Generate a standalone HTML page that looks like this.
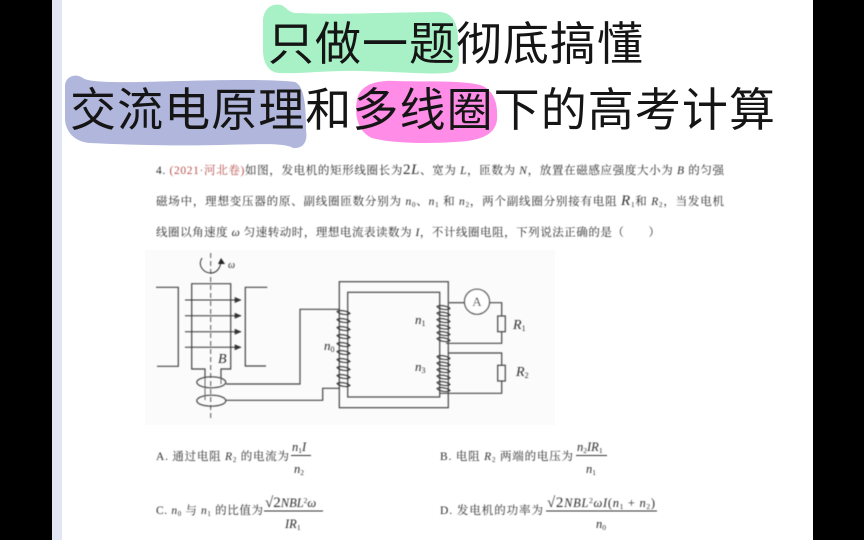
<!DOCTYPE html>
<html><head><meta charset="utf-8">
<style>
html,body{margin:0;padding:0;width:864px;height:540px;overflow:hidden;background:#000}
svg{display:block}
.h{font-family:"Liberation Sans","Noto Sans CJK SC",sans-serif;font-size:46px;fill:#151515}
.q{font-family:"Liberation Serif","Noto Serif CJK SC",serif;font-size:11.5px;fill:#2e2e2e}
.m{font-family:"Liberation Serif",serif;font-style:italic;fill:#2e2e2e}
.w{fill:none;stroke:#444;stroke-width:1.2}
</style></head><body>
<svg width="864" height="540" viewBox="0 0 864 540" xmlns="http://www.w3.org/2000/svg">
<defs>
<filter id="b" x="-5%" y="-5%" width="110%" height="110%"><feGaussianBlur stdDeviation="0.45"/></filter>
<g id="t"><path d="M-6.5,-1.5 C-4,-3.5 4,-2 6.5,0.5 C4,2.5 -4,1.5 -6.5,-1.5Z" fill="none" stroke="#333" stroke-width="1.1"/></g>
<marker id="ar" markerWidth="8" markerHeight="6" refX="6" refY="3" orient="auto" markerUnits="userSpaceOnUse"><path d="M0,0 L7,3 L0,6Z" fill="#333"/></marker>
</defs>
<rect x="52" y="0" width="10" height="540" fill="#e2e6f4"/>
<rect x="62" y="0" width="751" height="540" fill="#fff"/>
<rect x="145" y="250" width="410" height="175" fill="#fbfbfb"/>
<!-- highlights -->
<path d="M263,20 C264,8 272,3 281,5 C287,7 288,14 300,13 C340,15 400,12 440,12 C452,13 458,22 458,40 C459,55 461,65 455,71 C445,76 410,72 360,71 C330,70 300,74 280,73 C268,73 263,62 263,50Z" fill="#a8f0c6"/>
<path d="M65,85 C66,76 76,73 83,78 C90,84 140,82 180,81 C220,80 270,79 295,82 C305,86 306,110 306,130 C308,142 303,149 293,148 C285,143 260,144 220,145 C180,146 130,145 90,143 C75,142 65,132 65,118Z" fill="#b0b6dc"/>
<path d="M357,100 C360,85 375,80 395,81 C420,82 460,80 480,85 C495,90 498,105 497,120 C495,135 480,141 455,142 C425,144 390,143 372,138 C358,132 354,115 357,100Z" fill="#ff8de8"/>
<text class="h" x="268" y="60" textLength="375" lengthAdjust="spacing">只做一题彻底搞懂</text>
<text class="h" x="70" y="126" textLength="705" lengthAdjust="spacing">交流电原理和多线圈下的高考计算</text>

<g filter="url(#b)">
<!-- question -->
<text class="q" x="156" y="174" textLength="568" lengthAdjust="spacing">4. <tspan fill="#b5524f">(2021·河北卷)</tspan>如图，发电机的矩形线圈长为<tspan font-size="15">2</tspan><tspan font-size="15" font-style="italic">L</tspan>、宽为 <tspan font-style="italic">L</tspan>，匝数为 <tspan font-style="italic">N</tspan>，放置在磁感应强度大小为 <tspan font-style="italic">B</tspan> 的匀强</text>
<text class="q" x="156" y="205" textLength="568" lengthAdjust="spacing">磁场中，理想变压器的原、副线圈匝数分别为 <tspan font-style="italic">n</tspan><tspan font-size="7" dy="2">0</tspan><tspan dy="-2">、</tspan><tspan font-style="italic">n</tspan><tspan font-size="7" dy="2">1</tspan><tspan dy="-2"> 和 </tspan><tspan font-style="italic">n</tspan><tspan font-size="7" dy="2">2</tspan><tspan dy="-2">，两个副线圈分别接有电阻 </tspan><tspan font-style="italic" font-size="15">R</tspan><tspan font-size="7" dy="2">1</tspan><tspan dy="-2">和 </tspan><tspan font-style="italic">R</tspan><tspan font-size="7" dy="2">2</tspan><tspan dy="-2">，当发电机</tspan></text>
<text class="q" x="156" y="236" textLength="504" lengthAdjust="spacing">线圈以角速度 <tspan font-style="italic">ω</tspan> 匀速转动时，理想电流表读数为 <tspan font-style="italic">I</tspan>，不计线圈电阻，下列说法正确的是（　　）</text>

<!-- generator -->
<path class="w" d="M156,287.3H178.3V366.3H157"/>
<path class="w" d="M267.3,287.3H245.3V366H266"/>
<path class="w" d="M205,378V369H191.7V283.7H230.7V369H221V378"/>
<g stroke="#333" stroke-width="1">
<line x1="185" y1="300" x2="240.7" y2="300" marker-end="url(#ar)"/>
<line x1="185" y1="315.7" x2="240.7" y2="315.7" marker-end="url(#ar)"/>
<line x1="185" y1="331.7" x2="240.7" y2="331.7" marker-end="url(#ar)"/>
<line x1="185" y1="347.3" x2="240.7" y2="347.3" marker-end="url(#ar)"/>
</g>
<line x1="210.7" y1="253" x2="210.7" y2="421" stroke="#555" stroke-width="1" stroke-dasharray="5,3"/>
<path d="M202,258 C197,266 204,273 211,273 C216,273 220,269 221,262" fill="none" stroke="#333" stroke-width="1"/>
<path d="M218,264 L221,258 L225,264Z" fill="#222"/>
<text class="m" x="228" y="268" font-size="10">ω</text>
<text class="m" x="218" y="363" font-size="14">B</text>
<ellipse cx="211.3" cy="382.3" rx="14.5" ry="5.5" class="w"/>
<ellipse cx="211.3" cy="400.7" rx="14.5" ry="5.5" class="w"/>
<line x1="205" y1="378" x2="205" y2="400" stroke="#666"/>
<line x1="221" y1="378" x2="221" y2="384" stroke="#666"/>
<path class="w" d="M226,384H300V309.3H340"/>
<path class="w" d="M226,400.3H322.7V388.3H340"/>

<!-- transformer -->
<rect x="339.3" y="281.7" width="109" height="126" class="w"/>
<rect x="347.7" y="292.3" width="92" height="104.7" class="w"/>
<use href="#t" x="343.5" y="313"/><use href="#t" x="343.5" y="321"/><use href="#t" x="343.5" y="329"/><use href="#t" x="343.5" y="337"/><use href="#t" x="343.5" y="345"/><use href="#t" x="343.5" y="353"/><use href="#t" x="343.5" y="361"/><use href="#t" x="343.5" y="369"/><use href="#t" x="343.5" y="377"/><use href="#t" x="343.5" y="385"/>
<use href="#t" x="443.5" y="308"/><use href="#t" x="443.5" y="314.5"/><use href="#t" x="443.5" y="321"/><use href="#t" x="443.5" y="327.5"/><use href="#t" x="443.5" y="334"/><use href="#t" x="443.5" y="340"/>
<use href="#t" x="443.5" y="358"/><use href="#t" x="443.5" y="364.5"/><use href="#t" x="443.5" y="371"/><use href="#t" x="443.5" y="377.5"/><use href="#t" x="443.5" y="384"/><use href="#t" x="443.5" y="390"/>
<text class="m" x="324" y="350" font-size="13">n<tspan font-size="8" font-style="normal" dy="2">0</tspan></text>
<text class="m" x="415" y="324" font-size="13">n<tspan font-size="8" font-style="normal" dy="2">1</tspan></text>
<text class="m" x="415" y="371" font-size="13">n<tspan font-size="8" font-style="normal" dy="2">3</tspan></text>

<circle cx="477" cy="301.7" r="12.5" fill="#fff" stroke="#444" stroke-width="1.2"/>
<text x="477" y="306" font-family="Liberation Serif,serif" font-size="13" fill="#333" text-anchor="middle">A</text>
<path class="w" d="M449,302.7H464.5"/>
<path class="w" d="M489.5,302.7H501.7V316"/>
<rect x="497.7" y="316" width="7.6" height="15.7" class="w"/>
<path class="w" d="M501.7,331.7V343.3H446"/>
<path class="w" d="M448,353H501.7V365.3"/>
<rect x="497.7" y="365.3" width="7.6" height="15.7" class="w"/>
<path class="w" d="M501.7,381V393.3H440"/>
<text class="m" x="513" y="329" font-size="14">R<tspan font-size="8" font-style="normal" dy="2">1</tspan></text>
<text class="m" x="516" y="376" font-size="14">R<tspan font-size="8" font-style="normal" dy="2">2</tspan></text>

<!-- options -->
<text class="q" x="156" y="460" font-size="12" textLength="133" lengthAdjust="spacing">A.  通过电阻 <tspan font-style="italic">R</tspan><tspan font-size="7" dy="2">2</tspan><tspan dy="-2"> 的电流为</tspan></text>
<text class="m" x="292" y="451" font-size="12.5">n<tspan font-size="7.5" font-style="normal" dy="2">1</tspan><tspan dy="-2">I</tspan></text>
<line x1="291" y1="455.5" x2="311" y2="455.5" stroke="#333" stroke-width=".9"/>
<text class="m" x="294" y="473" font-size="12.5">n<tspan font-size="7.5" font-style="normal" dy="2">2</tspan></text>

<text class="q" x="440" y="460" font-size="12" textLength="133" lengthAdjust="spacing">B.  电阻 <tspan font-style="italic">R</tspan><tspan font-size="7" dy="2">2</tspan><tspan dy="-2"> 两端的电压为</tspan></text>
<text class="m" x="577" y="451" font-size="12.5">n<tspan font-size="7.5" font-style="normal" dy="2">2</tspan><tspan dy="-2">IR</tspan><tspan font-size="7.5" font-style="normal" dy="2">1</tspan></text>
<line x1="576" y1="455.5" x2="607" y2="455.5" stroke="#333" stroke-width=".9"/>
<text class="m" x="586" y="473" font-size="12.5">n<tspan font-size="7.5" font-style="normal" dy="2">1</tspan></text>

<text class="q" x="156" y="514" font-size="12" textLength="107" lengthAdjust="spacing">C.  <tspan font-style="italic">n</tspan><tspan font-size="7" dy="2">0</tspan><tspan dy="-2"> 与 </tspan><tspan font-style="italic">n</tspan><tspan font-size="7" dy="2">1</tspan><tspan dy="-2"> 的比值为</tspan></text>
<text class="m" x="265" y="507" font-size="12.5"><tspan font-style="normal" font-size="15">√2</tspan>NBL<tspan font-size="7.5" font-style="normal" dy="-4">2</tspan><tspan dy="4">ω</tspan></text>
<line x1="264" y1="511" x2="323" y2="511" stroke="#333" stroke-width=".9"/>
<text class="m" x="285" y="528" font-size="12.5">IR<tspan font-size="7.5" font-style="normal" dy="2">1</tspan></text>

<text class="q" x="440" y="514" font-size="12" textLength="103" lengthAdjust="spacing">D.  发电机的功率为</text>
<text class="m" x="547" y="507" font-size="12.5" textLength="108" lengthAdjust="spacing"><tspan font-style="normal" font-size="15">√2</tspan>NBL<tspan font-size="7.5" font-style="normal" dy="-4">2</tspan><tspan dy="4">ωI</tspan><tspan font-style="normal">(</tspan>n<tspan font-size="7.5" font-style="normal" dy="2">1</tspan><tspan dy="-2" font-style="normal"> + </tspan>n<tspan font-size="7.5" font-style="normal" dy="2">2</tspan><tspan dy="-2" font-style="normal">)</tspan></text>
<line x1="546" y1="511" x2="657" y2="511" stroke="#333" stroke-width=".9"/>
<text class="m" x="596" y="528" font-size="12.5">n<tspan font-size="7.5" font-style="normal" dy="2">0</tspan></text>
</g>
<rect x="0" y="0" width="52" height="540" fill="#000"/>
<rect x="813" y="0" width="51" height="540" fill="#000"/>
</svg>
</body></html>
